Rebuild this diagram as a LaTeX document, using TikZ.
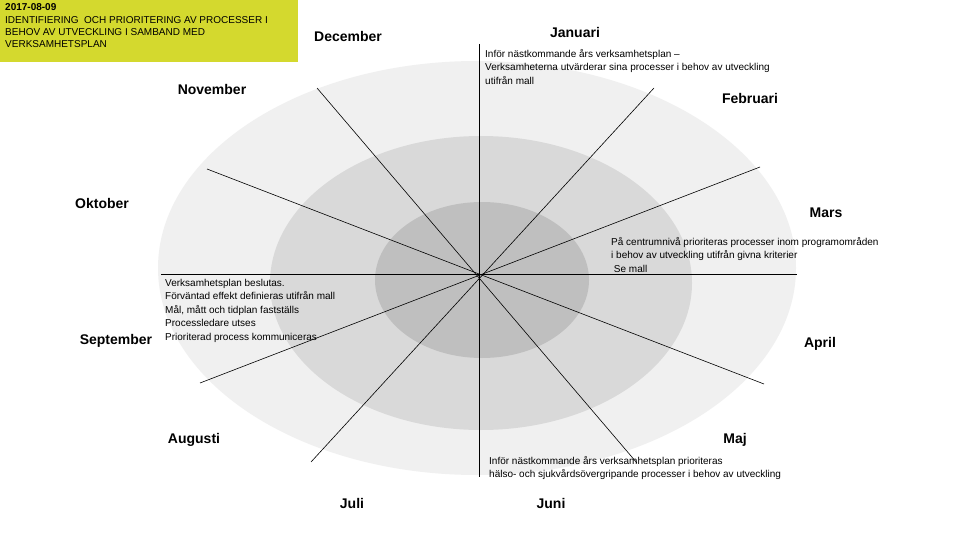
\documentclass[tikz,border=0pt]{standalone}
\usepackage{fontspec}
\setmainfont{Liberation Sans}
\begin{document}
\begin{tikzpicture}[x=1pt,y=-1pt,
  month/.style={font=\fontsize{14}{16}\selectfont\bfseries},
  note/.style={font=\fontsize{10}{13.5}\selectfont,align=left,inner sep=0pt},
  spoke/.style={draw=black,line width=0.6pt}]
\useasboundingbox (0,0) rectangle (960,540);
\fill[white] (0,0) rectangle (960,540);
\fill[black!6] (477,268) ellipse [x radius=319, y radius=207];
\fill[black!15] (481,283) ellipse [x radius=211, y radius=147];
\fill[black!25] (482,280) ellipse [x radius=107, y radius=78];
\coordinate (c) at (480,274);
\foreach \n/\x/\y in {a1/479/44,a2/479/477,b1/161/274,b2/797/274,d1/317/88,d2/637/463,e1/654/88,e2/311/462,f1/207/169,f2/764/384,g1/760/167,g2/200/383}
  \coordinate (\n) at (\x,\y);
\foreach \p/\q in {a1/a2,b1/b2,d1/d2,e1/e2,f1/f2,g1/g2} \draw[spoke] (\p) -- (\q);
\fill[fill={rgb,255:red,212;green,217;blue,46}] (0,0) rectangle (298,62);
\node[note,anchor=north west,font=\fontsize{10}{12}\selectfont] (title) at (5,3)
  {\textbf{2017-08-09}\\[1pt]IDENTIFIERING\ \ OCH PRIORITERING AV PROCESSER I\\BEHOV AV UTVECKLING I SAMBAND MED\\VERKSAMHETSPLAN};
\node[month] (dec) at (348,36) {December};
\node[month] (jan) at (575,32) {Januari};
\node[month] (nov) at (212,89) {November};
\node[month] (feb) at (750,98) {Februari};
\node[month] (okt) at (102,203) {Oktober};
\node[month] (mar) at (826,213) {Mars};
\node[month] (sep) at (116,341) {September};
\node[month] (apr) at (820,344) {April};
\node[month] (aug) at (194,440) {Augusti};
\node[month] (maj) at (735,440) {Maj};
\node[month] (jul) at (352,503) {Juli};
\node[month] (jun) at (551,503) {Juni};
\node[note,anchor=north west] (n1) at (485,49) {Inför nästkommande års verksamhetsplan --\\Verksamheterna utvärderar sina processer i behov av utveckling\\utifrån mall};
\node[note,anchor=north west] (n2) at (611,237) {På centrumnivå prioriteras processer inom programområden\\i behov av utveckling utifrån givna kriterier\\\ Se mall};
\node[note,anchor=north west] (n3) at (165,279) {Verksamhetsplan beslutas.\\Förväntad effekt definieras utifrån mall\\Mål, mått och tidplan fastställs\\Processledare utses\\Prioriterad process kommuniceras};
\node[note,anchor=north west] (n4) at (489,456) {Inför nästkommande års verksamhetsplan prioriteras\\hälso- och sjukvårdsövergripande processer i behov av utveckling};
\end{tikzpicture}
\end{document}
